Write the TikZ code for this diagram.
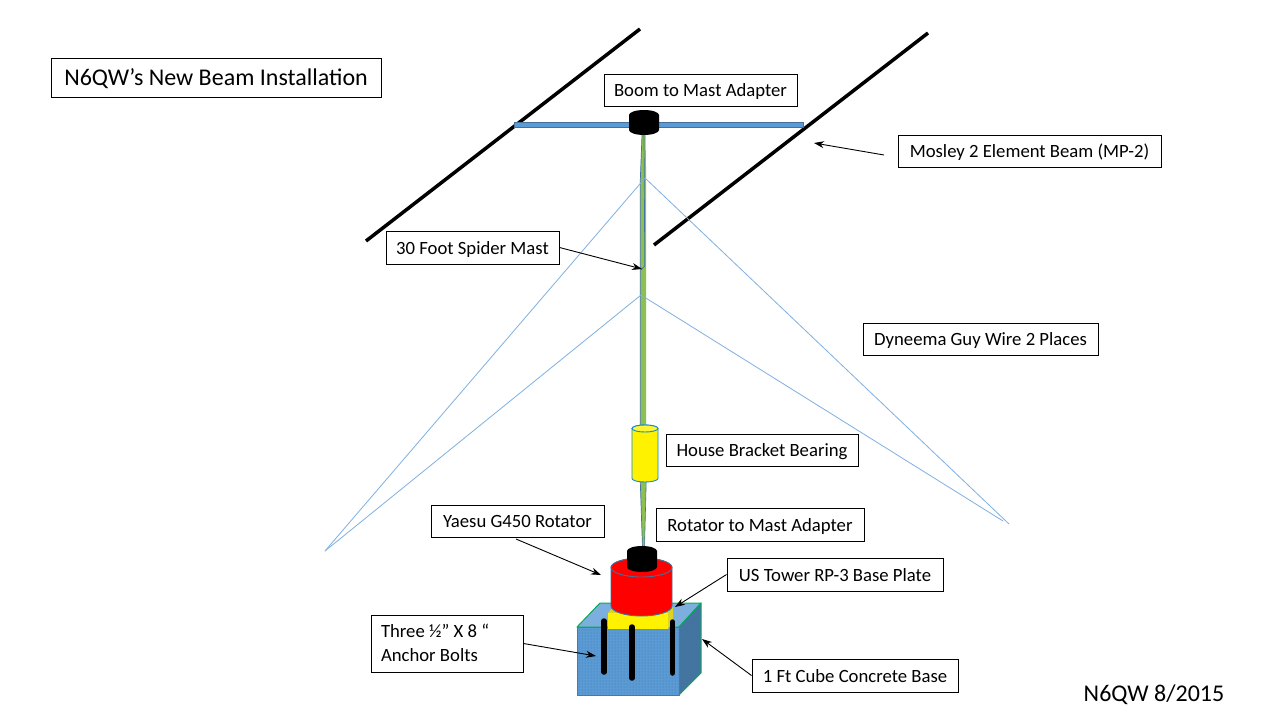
\documentclass[tikz,border=0pt]{standalone}
\usepackage{fontspec}
\setmainfont{Carlito}
\usetikzlibrary{arrows.meta, patterns}
\definecolor{boomblue}{HTML}{5B9BD5}
\definecolor{edgeblue}{HTML}{41719C}
\definecolor{guyblue}{HTML}{7FB0E0}
\definecolor{cubegreen}{HTML}{00B050}
\definecolor{mastgreen}{HTML}{8CC152}
\tikzset{
    labelbox/.style = {draw = black, fill = white, line width = 1pt, inner sep = 0pt, align = center, text height = 15pt, text depth = 2pt, font = \fontsize{18.7}{24}\selectfont},
    guywire/.style = {guyblue, line width = .8pt},
    element/.style = {black, line width = 3.5pt},
    callout/.style = {->, black, line width = .9pt},
    stipple/.style = {pattern = dots, pattern color = edgeblue}
}
\begin{document}
\begin{tikzpicture}[>={Stealth[length = 10pt, width = 7pt]}, x = 1pt, y = -1pt]
    \useasboundingbox (0, 0) rectangle (1280, 720);
    \fill [white] (0, 0) rectangle (1280, 720);

    %%%%%%%%%% beam %%%%%%%%%%%%%%%%%%%
    \draw [element] (366, 241)  --  (640, 29);
    \draw [element] (654, 245)  --  (928, 33);
    \draw [fill = boomblue, draw = edgeblue, line width = .8pt] (514, 122) rectangle (803, 127.5);

    %%%%%%%%%% mast %%%%%%%%%%%%%%%%%%%
    \fill [mastgreen] (642, 135)  --  (645.5, 135)  --  (646.2, 180)  --  (646.2, 482)  --  (644.5, 548)  --  (642.5, 548)  --  (640.3, 482)  --  (640.3, 180)  --  cycle;
    \draw [edgeblue, line width = .7pt] (642, 135)  --  (640.3, 180)  --  (640.3, 482)  --  (642.5, 548);
    \draw [edgeblue, line width = .7pt] (644, 135)  --  (644.8, 266)  --  (641, 270);
    \draw [edgeblue, line width = .6pt] (646.2, 482)  --  (644.5, 548);

    %%%%%%%%%% guy wires %%%%%%%%%%%%%%%%%%%
    \draw [guywire] (325, 551)  --  (645, 178)  --  (1009, 524);
    \draw [guywire] (325, 551)  --  (641, 295)  --  (1003, 521);

    %%%%%%%%%% boom to mast adapter %%%%%%%%%%%%%%%%%%%
    \fill [black] (629, 115) arc [x radius = 15pt, y radius = 5pt, start angle = 180, end angle = 0]  --  (659, 130) arc [x radius = 15pt, y radius = 5pt, start angle = 0, end angle = -180]  --  cycle;

    %%%%%%%%%% bracket bearing %%%%%%%%%%%%%%%%%%%
    \draw [fill = yellow, draw = cyan!70!blue, line width = .9pt] (632, 428.5) arc [x radius = 13pt, y radius = 3.5pt, start angle = 180, end angle = 0]  --  (658, 478.5) arc [x radius = 13pt, y radius = 3.5pt, start angle = 0, end angle = -180]  --  cycle;
    \draw [fill = yellow!80!white, draw = cyan!70!blue, line width = .9pt] (645, 428.5) ellipse [x radius = 13pt, y radius = 3.5pt];

    %%%%%%%%%% concrete cube %%%%%%%%%%%%%%%%%%%
    \begin{scope}[draw = cubegreen, line width = 1pt, line join = round]
        \draw [fill = boomblue!80!white] (577, 627)  --  (600, 603)  --  (701, 603)  --  (679, 627)  --  cycle;
        \draw [fill = boomblue!75!black] (679, 627)  --  (701, 603)  --  (701, 673)  --  (679, 695)  --  cycle;
        \draw [fill = boomblue] (577, 627) rectangle (679, 695);
        \fill [stipple] (577, 627) rectangle (679, 695);
        \fill [stipple] (679, 627)  --  (701, 603)  --  (701, 673)  --  (679, 695)  --  cycle;
    \end{scope}

    %%%%%%%%%% base plate %%%%%%%%%%%%%%%%%%%
    \fill [yellow!85!black] (668, 613)  --  (673, 607)  --  (673, 623)  --  (668, 629)  --  cycle;
    \fill [yellow!85!black] (608, 613)  --  (613, 607)  --  (673, 607)  --  (668, 613)  --  cycle;
    \fill [yellow] (608, 613) rectangle (668, 629);

    %%%%%%%%%% anchor bolts %%%%%%%%%%%%%%%%%%%
    \foreach \x/\y/\z in {604/621/672, 632/627/678, 672.5/622/673} {
        \draw [black, line width = 5.5pt, line cap = round] (\x, \y)  --  (\x, \z);
    }

    %%%%%%%%%% rotator %%%%%%%%%%%%%%%%%%%
    \draw [fill = red, draw = edgeblue, line width = .9pt] (611, 567.5) arc [x radius = 30.5pt, y radius = 9.5pt, start angle = 180, end angle = 0]  --  (672, 606) arc [x radius = 30.5pt, y radius = 10pt, start angle = 0, end angle = -180]  --  cycle;
    \draw [fill = red, draw = edgeblue, line width = .9pt] (641.5, 567.5) ellipse [x radius = 30.5pt, y radius = 9.5pt];
    \fill [black] (627, 551) arc [x radius = 15pt, y radius = 5pt, start angle = 180, end angle = 0]  --  (657, 567) arc [x radius = 15pt, y radius = 5pt, start angle = 0, end angle = -180]  --  cycle;

    %%%%%%%%%% labels %%%%%%%%%%%%%%%%%%%
    \node [labelbox, minimum width = 330pt, minimum height = 39pt, text height = 18pt, text depth = 3pt, font = \fontsize{24}{28}\selectfont] (title) at (216, 77.5) {N6QW’s New Beam Installation};
    \node [labelbox, minimum width = 193pt, minimum height = 32pt] (boomlabel) at (700.5, 90) {Boom to Mast Adapter};
    \node [labelbox, minimum width = 263pt, minimum height = 32pt] (beamlabel) at (1029.5, 151) {Mosley 2 Element Beam (MP-2)};
    \node [labelbox, minimum width = 173pt, minimum height = 33pt] (mastlabel) at (472.5, 247.5) {30 Foot Spider Mast};
    \node [labelbox, minimum width = 235pt, minimum height = 32pt] (guylabel) at (980.5, 339) {Dyneema Guy Wire 2 Places};
    \node [labelbox, minimum width = 192pt, minimum height = 32pt] (bearinglabel) at (762, 450) {House Bracket Bearing};
    \node [labelbox, minimum width = 208pt, minimum height = 33pt] (adapterlabel) at (760, 524.5) {Rotator to Mast Adapter};
    \node [labelbox, minimum width = 173pt, minimum height = 32pt] (rotatorlabel) at (517.5, 521) {Yaesu G450 Rotator};
    \node [labelbox, minimum width = 216pt, minimum height = 33pt] (platelabel) at (835, 574.5) {US Tower RP-3 Base Plate};
    \node [labelbox, minimum width = 152pt, minimum height = 57pt, align = flush left, text width = 132pt, text height = 15pt, text depth = 28pt] (boltlabel) at (447, 643.5) {Three ½” X 8 “\\Anchor Bolts};
    \node [labelbox, minimum width = 206pt, minimum height = 33pt] (cubelabel) at (855, 675.5) {1 Ft Cube Concrete Base};
    \node [inner sep = 0pt, font = \fontsize{24}{28}\selectfont] (datelabel) at (1154, 694.5) {N6QW 8/2015};

    %%%%%%%%%% callouts %%%%%%%%%%%%%%%%%%%
    \coordinate (beamtail) at (884, 155);
    \coordinate (beamtip) at (814, 143);
    \coordinate (masttip) at (642, 269);
    \coordinate (rotatortail) at (516, 539);
    \coordinate (rotatortip) at (601, 575);
    \coordinate (platetip) at (675, 607);
    \coordinate (bolttip) at (596, 656);
    \coordinate (cubetip) at (702, 639);

    \draw [callout] (beamtail)  --  (beamtip);
    \draw [callout] (mastlabel.east)  --  (masttip);
    \draw [callout] (rotatortail)  --  (rotatortip);
    \draw [callout] (platelabel.west)  --  (platetip);
    \draw [callout] (boltlabel.east)  --  (bolttip);
    \draw [callout] (cubelabel.west)  --  (cubetip);
\end{tikzpicture}
\end{document}
